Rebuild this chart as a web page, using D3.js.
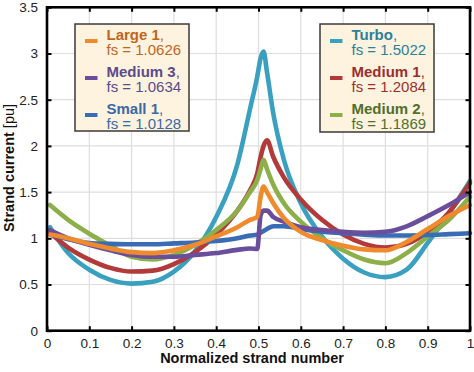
<!DOCTYPE html>
<html>
<head>
<meta charset="utf-8">
<script src="https://cdn.jsdelivr.net/npm/d3@7"></script>
<style>
  html, body { margin: 0; padding: 0; background: #fff; }
  svg { display: block; font-family: "Liberation Sans", Arial, Helvetica, sans-serif; }
</style>
</head>
<body>
<svg id="chart" width="474" height="372"></svg>
<script>
// ---------------- data ----------------
const xs = [0.007, 0.05, 0.1, 0.15, 0.2, 0.25, 0.3, 0.35, 0.4, 0.45, 0.48, 0.497, 0.505, 0.512, 0.52, 0.535, 0.56, 0.6, 0.65, 0.7, 0.75, 0.8, 0.85, 0.9, 0.95, 1.0];

const large1  = [1.04, 1.00, 0.94, 0.89, 0.85, 0.84, 0.87, 0.93, 1.02, 1.12, 1.20, 1.23, 1.45, 1.56, 1.50, 1.38, 1.22, 1.07, 0.98, 0.92, 0.88, 0.87, 0.96, 1.10, 1.24, 1.36];
const medium3 = [1.09, 1.00, 0.93, 0.87, 0.82, 0.80, 0.80, 0.82, 0.84, 0.875, 0.89, 0.885, 1.25, 1.30, 1.30, 1.23, 1.18, 1.12, 1.09, 1.07, 1.06, 1.07, 1.13, 1.24, 1.36, 1.50];
const small1  = [1.04, 0.99, 0.95, 0.94, 0.935, 0.935, 0.945, 0.955, 0.97, 1.00, 1.03, 1.04, 1.06, 1.08, 1.10, 1.13, 1.13, 1.10, 1.07, 1.055, 1.04, 1.03, 1.03, 1.035, 1.045, 1.055];
const turbo   = [1.12, 0.84, 0.66, 0.55, 0.51, 0.53, 0.64, 0.86, 1.23, 1.80, 2.40, 2.75, 2.95, 3.02, 2.80, 2.35, 1.85, 1.38, 1.02, 0.78, 0.63, 0.58, 0.66, 0.95, 1.27, 1.62];
const medium1 = [1.06, 0.90, 0.77, 0.68, 0.64, 0.65, 0.72, 0.85, 1.04, 1.30, 1.52, 1.70, 1.88, 2.00, 2.06, 1.88, 1.66, 1.42, 1.20, 1.04, 0.94, 0.90, 0.94, 1.07, 1.28, 1.60];
const medium2 = [1.36, 1.20, 1.05, 0.92, 0.80, 0.77, 0.82, 0.93, 1.09, 1.30, 1.50, 1.63, 1.75, 1.85, 1.75, 1.58, 1.38, 1.18, 1.00, 0.87, 0.77, 0.73, 0.84, 1.02, 1.20, 1.45];

const seriesNames = ["Large 1", "Medium 3", "Small 1", "Turbo", "Medium 1", "Medium 2"];
const fsValues = ["1.0626", "1.0634", "1.0128", "1.5022", "1.2084", "1.1869"];

const xTicks = [0, 0.1, 0.2, 0.3, 0.4, 0.5, 0.6, 0.7, 0.8, 0.9, 1];
const xTickLabels = ["0", "0.1", "0.2", "0.3", "0.4", "0.5", "0.6", "0.7", "0.8", "0.9", "1"];
const yTicks = [0, 0.5, 1, 1.5, 2, 2.5, 3, 3.5];
const yTickLabels = ["0", "0.5", "1", "1.5", "2", "2.5", "3", "3.5"];

const xTitle = "Normalized strand number";
const yTitleBold = "Strand current ";
const yTitleUnit = "[pu]";

// ---------------- styles ----------------
const lineColors = {
  "Large 1": "#ef8a2d", "Medium 3": "#6a4e9c", "Small 1": "#3a6cb6",
  "Turbo": "#3aa0c0", "Medium 1": "#b23a3a", "Medium 2": "#8caf4a"
};
const textColors = {
  "Large 1": "#bf661f", "Medium 3": "#5c4b8d", "Small 1": "#3b69a8",
  "Turbo": "#2b8199", "Medium 1": "#9b2f2f", "Medium 2": "#4f702b"
};
const seriesData = {
  "Large 1": large1, "Medium 3": medium3, "Small 1": small1,
  "Turbo": turbo, "Medium 1": medium1, "Medium 2": medium2
};
const drawOrder = ["Turbo", "Medium 1", "Medium 2", "Small 1", "Medium 3", "Large 1"];

// ---------------- layout ----------------
const svg = d3.select("#chart");
const L = 47, R = 470, T = 7.3, B = 330.7;
const x = d3.scaleLinear().domain([0, 1]).range([L, R]);
const y = d3.scaleLinear().domain([0, 3.5]).range([B, T]);

// grid
const grid = svg.append("g").attr("stroke", "#dedede").attr("stroke-width", 1.2);
grid.selectAll("line.gx").data(xTicks.slice(1, -1)).enter().append("line")
  .attr("x1", d => x(d)).attr("x2", d => x(d)).attr("y1", T).attr("y2", B);
grid.selectAll("line.gy").data(yTicks.slice(1, -1)).enter().append("line")
  .attr("x1", L).attr("x2", R).attr("y1", d => y(d)).attr("y2", d => y(d));

// lines
const lineGen = d3.line()
  .x((d, i) => x(xs[i]))
  .y(d => y(d))
  .curve(d3.curveMonotoneX);

const linesG = svg.append("g");
drawOrder.forEach(name => {
  linesG.append("path")
    .datum(seriesData[name])
    .attr("d", lineGen)
    .attr("fill", "none")
    .attr("stroke", lineColors[name])
    .attr("stroke-width", 4.6)
    .attr("stroke-linejoin", "round")
    .attr("stroke-linecap", "round");
});

// axes
const fmtX = d => xTickLabels[xTicks.indexOf(d)];
const fmtY = d => yTickLabels[yTicks.indexOf(d)];

const axB = svg.append("g").attr("transform", `translate(0,${B})`)
  .call(d3.axisBottom(x).tickValues(xTicks).tickFormat(fmtX).tickSize(-4.5).tickPadding(7.7));
const axL = svg.append("g").attr("transform", `translate(${L},0)`)
  .call(d3.axisLeft(y).tickValues(yTicks).tickFormat(fmtY).tickSize(-4.5).tickPadding(9));
const axT = svg.append("g").attr("transform", `translate(0,${T})`)
  .call(d3.axisTop(x).tickValues(xTicks).tickFormat("").tickSize(-4.5));
const axR = svg.append("g").attr("transform", `translate(${R},0)`)
  .call(d3.axisRight(y).tickValues(yTicks).tickFormat("").tickSize(-4.5));

[axB, axL, axT, axR].forEach(g => {
  g.select(".domain").remove();
  g.selectAll(".tick line").attr("stroke", "#000").attr("stroke-width", 2);
  g.selectAll(".tick text").attr("fill", "#222").style("font-size", "13.5px")
    .style("font-family", "'Liberation Sans', Arial, Helvetica, sans-serif");
});

// frame
svg.append("rect").attr("x", L).attr("y", T).attr("width", R - L).attr("height", B - T)
  .attr("fill", "none").attr("stroke", "#000").attr("stroke-width", 2.6);

// axis titles
svg.append("text")
  .attr("x", 252).attr("y", 363)
  .attr("text-anchor", "middle")
  .style("font-size", "14.5px").style("font-weight", "bold").attr("fill", "#111")
  .text(xTitle);

const yt = svg.append("text")
  .attr("transform", "translate(13.5,168) rotate(-90)")
  .attr("text-anchor", "middle")
  .style("font-size", "14.5px").attr("fill", "#111");
yt.append("tspan").style("font-weight", "bold").text(yTitleBold);
yt.append("tspan").style("font-weight", "normal").text(yTitleUnit);

// legends
function legend(bx, by, bw, bh, names) {
  const g = svg.append("g");
  g.append("rect").attr("x", bx).attr("y", by).attr("width", bw).attr("height", bh)
    .attr("fill", "#fdf3de").attr("stroke", "#3a3a3a").attr("stroke-width", 1.5);
  names.forEach((name, i) => {
    const base = by + 15.5 + i * 37;
    g.append("line")
      .attr("x1", bx + 10).attr("x2", bx + 22.5)
      .attr("y1", base + 1.5).attr("y2", base + 1.5)
      .attr("stroke", lineColors[name]).attr("stroke-width", 4);
    const t1 = g.append("text").attr("x", bx + 31.5).attr("y", base)
      .style("font-size", "15px").attr("fill", textColors[name]);
    t1.append("tspan").style("font-weight", "bold").text(name);
    t1.append("tspan").text(",");
    g.append("text").attr("x", bx + 31.5).attr("y", base + 15.5)
      .style("font-size", "15px").attr("fill", textColors[name])
      .text("fs = " + fsValues[seriesNames.indexOf(name)]);
  });
}
legend(75, 24, 114, 107, seriesNames.slice(0, 3));
legend(320, 24, 114, 108, seriesNames.slice(3, 6));
</script>
</body>
</html>
